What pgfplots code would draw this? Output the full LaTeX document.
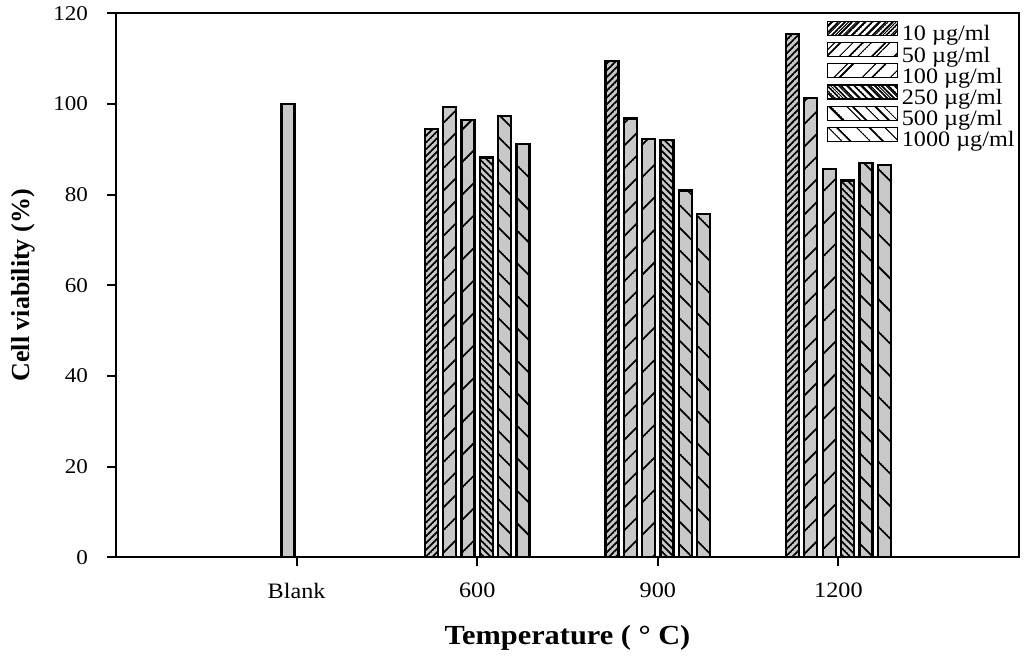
\documentclass[border=0pt]{standalone}
\usepackage{pgfplots}
\pgfplotsset{compat=1.18}
\usepackage{fontspec}
\setmainfont{Liberation Serif}[FakeStretch=1.1]
\newfontfamily\ylabfont{Liberation Serif}
\usetikzlibrary{patterns.meta}
\definecolor{barfill}{RGB}{200,200,200}
\tikzdeclarepattern{
  name=mylines,
  parameters={
      \pgfkeysvalueof{/pgf/pattern keys/size},
      \pgfkeysvalueof{/pgf/pattern keys/angle},
      \pgfkeysvalueof{/pgf/pattern keys/line width},
  },
  bounding box={
    (0,-0.5*\pgfkeysvalueof{/pgf/pattern keys/line width}) and
    (\pgfkeysvalueof{/pgf/pattern keys/size},
     0.5*\pgfkeysvalueof{/pgf/pattern keys/line width})},
  tile size={(\pgfkeysvalueof{/pgf/pattern keys/size},
              \pgfkeysvalueof{/pgf/pattern keys/size})},
  tile transformation={rotate=\pgfkeysvalueof{/pgf/pattern keys/angle}},
  defaults={
    size/.initial=5pt,
    angle/.initial=45,
    line width/.initial=.4pt,
  },
  code={
      \draw [line width=\pgfkeysvalueof{/pgf/pattern keys/line width}]
        (0,0) -- (\pgfkeysvalueof{/pgf/pattern keys/size},0);
  },
}
\newcommand{\legimg}[2]{\draw[fill=white,draw=black,line width=0.6pt,postaction={pattern={mylines[size=#1,angle=#2,line width=0.5pt]}}] (0pt,-0.3pt) rectangle (35pt,6.7pt);}
\begin{document}
\begin{tikzpicture}
\begin{axis}[
  scale only axis,
  width=451.5pt, height=272pt,
  xmin=0, xmax=5, ymin=0, ymax=120,
  ybar, bar width=0.072,
  xtick={1,2,3,4}, xticklabels={Blank,600,900,1200},
  ytick={0,20,...,120},
  xtick pos=bottom, ytick pos=left,
  tick align=outside, major tick length=4.5pt,
  axis line style={line width=1pt},
  every tick/.style={black, line width=1pt},
  /pgf/number format/assume math mode=true,
  xticklabel style={font=\fontsize{11}{13}\selectfont, yshift=-5pt},
  yticklabel style={font=\fontsize{10.5}{12}\selectfont, xshift=-6pt},
  xlabel={\textbf{Temperature ( ° C)}},
  ylabel={\ylabfont\textbf{Cell viability (\%)}},
  xlabel style={font=\fontsize{13.8}{16}\selectfont, yshift=-6.5pt},
  ylabel style={font=\fontsize{13}{15}\selectfont, yshift=2pt},
  legend style={draw=none, fill=none, at={(1,1)}, anchor=north east,
    font=\fontsize{11}{12}\selectfont, row sep=-2.95pt,
    inner xsep=0pt, inner ysep=3.5pt},
  legend cell align=left,
  every axis plot/.append style={fill=barfill, draw=black, line width=1.1pt},
]
\coordinate (ll) at (rel axis cs:0,0);
\coordinate (ur) at (rel axis cs:1,1);
\addplot[bar shift=-0.048, forget plot, fill=barfill, draw=black, line width=1.1pt] coordinates {(1,100)};
\addplot[bar shift=-0.254, postaction={pattern={mylines[size=2.4pt,angle=45,line width=0.9pt]}},
  legend image code/.code={\legimg{2.8pt}{45}}]
  coordinates {(2,94.4) (3,109.5) (4,115.5)};
\addplot[bar shift=-0.153, postaction={pattern={mylines[size=8pt,angle=45,line width=0.9pt]}},
  legend image code/.code={\legimg{6.5pt}{45}}]
  coordinates {(2,99.3) (3,96.8) (4,101.3)};
\addplot[bar shift=-0.051, postaction={pattern={mylines[size=11.5pt,angle=45,line width=0.9pt]}},
  legend image code/.code={\legimg{10pt}{45}}]
  coordinates {(2,96.5) (3,92.3) (4,85.7)};
\addplot[bar shift=0.051, postaction={pattern={mylines[size=2.4pt,angle=-45,line width=0.9pt]}},
  legend image code/.code={\legimg{2.8pt}{-45}}]
  coordinates {(2,88.2) (3,92.1) (4,83.1)};
\addplot[bar shift=0.153, postaction={pattern={mylines[size=8pt,angle=-45,line width=0.9pt]}},
  legend image code/.code={\legimg{6.5pt}{-45}}]
  coordinates {(2,97.4) (3,80.9) (4,86.9)};
\addplot[bar shift=0.254, postaction={pattern={mylines[size=11.5pt,angle=-45,line width=0.9pt]}},
  legend image code/.code={\legimg{10pt}{-45}}]
  coordinates {(2,91.2) (3,75.8) (4,86.6)};
\legend{10 µg/ml, 50 µg/ml, 100 µg/ml, 250 µg/ml, 500 µg/ml, 1000 µg/ml}
\end{axis}
\pgfresetboundingbox
\useasboundingbox ([xshift=-58pt,yshift=-49.75pt]ll) rectangle ([xshift=2.5pt,yshift=6.65pt]ur);
\end{tikzpicture}
\end{document}
